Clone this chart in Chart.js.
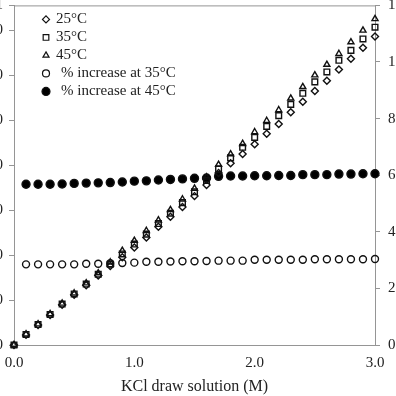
<!DOCTYPE html>
<html>
<head>
<meta charset="utf-8">
<script src="https://cdn.jsdelivr.net/npm/chart.js@4.4.1/dist/chart.umd.min.js"></script>
<style>
  html, body { margin: 0; padding: 0; background: #fff; overflow: hidden; width: 396px; height: 396px; }
  #wrap { position: absolute; left: -30px; top: 0; width: 460px; height: 396px; }
</style>
</head>
<body>
<div id="wrap"><canvas id="kclChart" width="460" height="396"></canvas></div>
<script>
// KCl concentration (M)
const kclConc = [0.0, 0.1, 0.2, 0.3, 0.4, 0.5, 0.6, 0.7, 0.8, 0.9, 1.0,
                 1.1, 1.2, 1.3, 1.4, 1.5, 1.6, 1.7, 1.8, 1.9, 2.0,
                 2.1, 2.2, 2.3, 2.4, 2.5, 2.6, 2.7, 2.8, 2.9, 3.0];

// left axis series
const flux25 = [0, 4.5, 8.9, 13.3, 17.9, 22.3, 26.6, 30.9, 35.1, 39.0, 43.4,
                47.8, 52.6, 57.0, 61.4, 66.2, 71.1, 76.5, 80.8, 84.9, 89.3,
                93.9, 98.3, 103.5, 108.2, 112.9, 117.5, 122.5, 127.3, 132.2, 137.2];
const flux35 = [0, 4.7, 9.1, 13.6, 18.2, 22.7, 27.1, 31.5, 35.9, 40.5, 44.9,
                49.3, 54.0, 58.6, 63.3, 68.1, 73.2, 78.3, 83.2, 87.9, 92.3,
                97.2, 102.0, 107.0, 111.9, 117.0, 121.4, 126.6, 131.0, 136.1, 141.3];
const flux45 = [0, 4.8, 9.3, 13.8, 18.5, 23.0, 27.5, 32.0, 36.8, 42.0, 46.4,
                50.8, 55.5, 60.1, 64.8, 69.6, 74.6, 80.2, 84.9, 89.5, 94.7,
                99.7, 104.5, 109.7, 114.8, 120.0, 124.7, 129.5, 134.7, 139.9, 145.0];

// right axis series (% increase), from 0.1 M
const pct35 = [28.5, 28.5, 28.5, 28.5, 28.5, 28.7, 28.7, 28.9, 29.0, 29.1,
               29.4, 29.4, 29.5, 29.6, 29.6, 29.7, 29.8, 29.8, 29.8, 30.1,
               30.1, 30.1, 30.1, 30.1, 30.3, 30.3, 30.3, 30.3, 30.3, 30.4];
const pct45 = [56.8, 56.8, 56.8, 56.9, 57.1, 57.2, 57.3, 57.4, 57.6, 57.9,
               58.0, 58.3, 58.5, 58.7, 58.9, 59.0, 59.6, 59.7, 59.7, 59.8,
               59.8, 59.9, 59.9, 60.2, 60.2, 60.2, 60.4, 60.4, 60.5, 60.5];

const seriesLabels = ["25\u00B0C", "35\u00B0C", "45\u00B0C", "% increase at 35\u00B0C", "% increase at 45\u00B0C"];
const xTickLabels = ["0.0", "1.0", "2.0", "3.0"];
const xTitle = "KCl draw solution (M)";

const fontFamily = '"Liberation Serif", "Times New Roman", serif';
const axisColor = "#959595";
const textColor = "#222";

function toPoints(xs, ys) {
    return ys.map((y, i) => ({ x: xs[i], y: y }));
}

function marker(label, data, axis, style, radius, fill) {
    return {
        label: label,
        data: data,
        yAxisID: axis,
        showLine: false,
        clip: false,
        pointStyle: style,
        pointRadius: radius,
        pointHoverRadius: radius,
        pointBorderWidth: 1.4,
        pointBorderColor: "#111",
        pointBackgroundColor: fill
    };
}

// legend drawn inside the plot area, plus the top frame line
const insideLegend = {
    id: "insideLegend",
    afterDatasetsDraw(chart) {
        const { ctx, chartArea } = chart;
        ctx.save();
        ctx.strokeStyle = axisColor;
        ctx.lineWidth = 1;
        ctx.beginPath();
        ctx.moveTo(chartArea.left, chartArea.top + 0.5);
        ctx.lineTo(chartArea.right, chartArea.top + 0.5);
        ctx.stroke();

        chart.data.datasets.forEach((ds, i) => {
            const y = chartArea.top + 14 + i * 18;
            ctx.fillStyle = ds.pointBackgroundColor;
            ctx.strokeStyle = ds.pointBorderColor;
            ctx.lineWidth = 1.2;
            Chart.helpers.drawPoint(ctx, {
                pointStyle: ds.pointStyle,
                radius: ds.pointRadius,
                rotation: 0,
                borderWidth: 1.2
            }, chartArea.left + 32, y);
            ctx.fillStyle = textColor;
            ctx.font = "15px " + fontFamily;
            ctx.textBaseline = "middle";
            ctx.textAlign = "left";
            ctx.fillText(ds.label, chartArea.left + (i < 3 ? 42 : 47), y);
        });
        ctx.restore();
    }
};

const ctx = document.getElementById("kclChart").getContext("2d");

new Chart(ctx, {
    type: "scatter",
    data: {
        datasets: [
            marker(seriesLabels[0], toPoints(kclConc, flux25), "y", "rectRot", 3.5, "rgba(0,0,0,0)"),
            marker(seriesLabels[1], toPoints(kclConc, flux35), "y", "rect", 4, "rgba(0,0,0,0)"),
            marker(seriesLabels[2], toPoints(kclConc, flux45), "y", "triangle", 3.5, "rgba(0,0,0,0)"),
            marker(seriesLabels[3], toPoints(kclConc.slice(1), pct35), "y1", "circle", 3.5, "rgba(0,0,0,0)"),
            marker(seriesLabels[4], toPoints(kclConc.slice(1), pct45), "y1", "circle", 4, "#000")
        ]
    },
    options: {
        responsive: false,
        animation: false,
        devicePixelRatio: 1,
        layout: { padding: { top: 2, left: 0, right: 0, bottom: 0 } },
        plugins: {
            legend: { display: false },
            tooltip: { enabled: false }
        },
        scales: {
            x: {
                type: "linear",
                position: "bottom",
                min: 0,
                max: 3,
                ticks: {
                    stepSize: 1,
                    maxRotation: 0,
                    padding: 9,
                    color: textColor,
                    font: { family: fontFamily, size: 15 },
                    callback: (v) => xTickLabels[Math.round(v)]
                },
                grid: { display: true, drawOnChartArea: false, drawTicks: false, color: axisColor },
                border: { display: true, color: axisColor },
                title: {
                    display: true,
                    text: xTitle,
                    color: textColor,
                    font: { family: fontFamily, size: 16 },
                    padding: { top: 6, bottom: 0 }
                },
                afterFit: (s) => { s.height = 51; s.paddingLeft = 0; s.paddingRight = 0; }
            },
            y: {
                position: "left",
                min: 0,
                max: 151,
                ticks: {
                    stepSize: 20,
                    padding: 6,
                    color: textColor,
                    font: { family: fontFamily, size: 15 }
                },
                grid: { display: true, drawOnChartArea: false, tickLength: 5, color: axisColor },
                border: { display: true, color: axisColor },
                afterFit: (s) => { s.width = 44; s.paddingTop = 0; s.paddingBottom = 0; }
            },
            y1: {
                position: "right",
                min: 0,
                max: 120,
                ticks: {
                    stepSize: 20,
                    padding: 8,
                    color: textColor,
                    font: { family: fontFamily, size: 15 }
                },
                grid: { display: true, drawOnChartArea: false, tickLength: 5, color: axisColor },
                border: { display: true, color: axisColor },
                afterFit: (s) => { s.width = 55; s.paddingTop = 0; s.paddingBottom = 0; }
            }
        }
    },
    plugins: [insideLegend]
});
</script>
</body>
</html>
